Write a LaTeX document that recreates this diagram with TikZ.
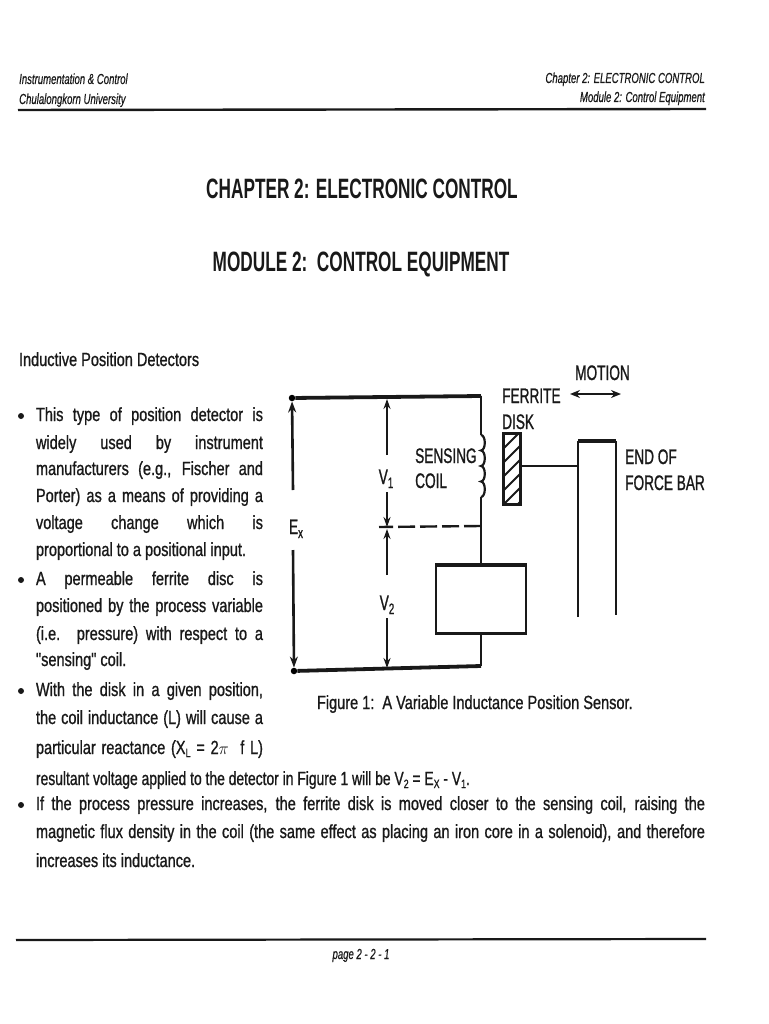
\documentclass[tikz,border=0pt]{standalone}
\usepackage{fontspec}
\usetikzlibrary{arrows.meta}
\setmainfont{Liberation Sans}
\newfontfamily\nf[FakeStretch=0.765,FakeBold=0.9]{Liberation Sans}
\newfontfamily\nft[FakeStretch=0.73,FakeBold=0.9]{Liberation Sans}
\newfontfamily\tf[FakeStretch=0.615]{Liberation Sans}
\newfontfamily\hf[FakeStretch=0.66,FakeBold=0.5]{Liberation Sans}
\newfontfamily\df[FakeStretch=0.65,FakeBold=1.0]{Liberation Sans}
\newcommand{\jl}[1]{\makebox[227pt][s]{#1}}
\newcommand{\jw}[1]{\makebox[669pt][s]{#1}}
\newcommand{\sbs}[1]{\raisebox{-3pt}{\fontsize{12}{12}\selectfont #1}}
\newcommand{\sbl}[1]{\raisebox{-4pt}{\fontsize{15}{15}\selectfont #1}}
\tikzset{
  ink/.style={draw=black!90},
  bodytxt/.style={anchor=base west,inner sep=0pt,outer sep=0pt,text=black!90,font=\nf\fontsize{19}{19}\selectfont},
  headtxt/.style={anchor=base west,inner sep=0pt,text=black!90,font=\hf\itshape\fontsize{14.5}{14.5}\selectfont},
  headrt/.style={headtxt,anchor=base east},
  titletxt/.style={anchor=base,inner sep=0pt,text=black!90,font=\tf\bfseries\fontsize{28}{28}\selectfont},
  lab/.style={anchor=base west,inner sep=0pt,text=black!90,font=\df\fontsize{21}{21}\selectfont},
  labc/.style={lab,anchor=base},
  dot/.style={circle,fill=black,inner sep=0pt,minimum size=6.5pt},
  volt/.style={ink,line width=2.1pt,-{Stealth[length=10pt,width=7pt]}},
  bul/.style={circle,fill=black!90,inner sep=0pt,minimum size=6pt}
}
\begin{document}
\begin{tikzpicture}[x=1pt,y=-1pt]
\useasboundingbox (0,0) rectangle (768,1024);
\fill[white] (0,0) rectangle (768,1024);
% headers
\node[headtxt] (h1) at (19,84) {Instrumentation \& Control};
\node[headtxt] (h2) at (19,104) {Chulalongkorn University};
\node[headrt] (h3) at (705,83) {Chapter 2:  ELECTRONIC CONTROL};
\node[headrt] (h4) at (705,102) {Module 2: Control Equipment};
\coordinate (r1a) at (18,110); \coordinate (r1b) at (706,109);
\draw[ink,line width=2.4pt] (r1a) -- (r1b);
% titles
\node[titletxt] (t1) at (362,199) {CHAPTER 2: ELECTRONIC CONTROL};
\node[titletxt] (t2) at (361,271) {MODULE 2:\ \ CONTROL EQUIPMENT};
% body
\node[bodytxt] (b0) at (19,366) {Inductive Position Detectors};
\node[bul] (d1) at (21,416) {};
\node[bodytxt] (l1) at (36,421) {\jl{This type of position detector is}};
\node[bodytxt] (l2) at (36,449) {\jl{widely used by instrument}};
\node[bodytxt] (l3) at (36,475) {\jl{manufacturers (e.g., Fischer and}};
\node[bodytxt] (l4) at (36,502) {\jl{Porter) as a means of providing a}};
\node[bodytxt] (l5) at (36,529) {\jl{voltage change which is}};
\node[bodytxt] (l6) at (36,556) {proportional to a positional input.};
\node[bul] (d2) at (21,580) {};
\node[bodytxt] (l7) at (36,585) {\jl{A permeable ferrite disc is}};
\node[bodytxt] (l8) at (36,612) {\jl{positioned by the process variable}};
\node[bodytxt] (l9) at (36,640) {\jl{(i.e. pressure) with respect to a}};
\node[bodytxt] (l10) at (36,666) {"sensing" coil.};
\node[bul] (d3) at (21,691) {};
\node[bodytxt] (l11) at (36,696) {\jl{With the disk in a given position,}};
\node[bodytxt] (l12) at (36,724) {\jl{the coil inductance (L) will cause a}};
\node[bodytxt] (l13) at (36,754) {\jl{particular reactance (X\sbs{L} = 2$\pi$\ \ f L)}};
\node[bodytxt,font=\nft\fontsize{19}{19}\selectfont] (l14) at (36,785) {resultant voltage applied to the detector in Figure 1 will be V\sbs{2} = E\sbs{X} - V\sbs{1}.};
\node[bul] (d4) at (21,805) {};
\node[bodytxt] (l15) at (36,810) {\jw{If the process pressure increases, the ferrite disk is moved closer to the sensing coil, raising the}};
\node[bodytxt] (l16) at (36,838) {\jw{magnetic flux density in the coil (the same effect as placing an iron core in a solenoid), and therefore}};
\node[bodytxt] (l17) at (36,867) {increases its inductance.};
\node[bodytxt] (cap) at (317,709) {Figure 1:\ \ A Variable Inductance Position Sensor.};
% footer
\coordinate (r2a) at (16,940); \coordinate (r2b) at (706,939);
\draw[ink,line width=2.2pt] (r2a) -- (r2b);
\node[headtxt,anchor=base] (pg) at (361,959) {page 2 - 2 - 1};
% circuit
\node[dot] (tl) at (292,398) {};
\node[dot] (bl) at (294,671) {};
\coordinate (tr) at (481,396);
\coordinate (br) at (481,666);
\coordinate (c1) at (481,435);
\coordinate (c2) at (481,497);
\coordinate (tap) at (481,526);
\coordinate (tapl) at (379,527);
\draw[ink,line width=3.8pt] (tl) -- (tr);
\draw[ink,line width=3.8pt] (bl) -- (br);
\node[draw=black!90,line width=2pt,minimum width=90pt,minimum height=67pt,inner sep=0pt] (det) at (481,599) {};
\draw[ink,line width=3.2pt] (det.north west) -- (det.north east);
\draw[ink,line width=3.2pt] (det.south west) -- (det.south east);
\draw[ink,line width=2.2pt] (tr) -- (c1);
\draw[ink,line width=2.2pt] (c1)
  arc[start angle=90,end angle=-90,x radius=3.8pt,y radius=7.75pt]
  arc[start angle=90,end angle=-90,x radius=3.8pt,y radius=7.75pt]
  arc[start angle=90,end angle=-90,x radius=3.8pt,y radius=7.75pt]
  arc[start angle=90,end angle=-90,x radius=3.8pt,y radius=7.75pt];
\draw[ink,line width=2.2pt] (c2) -- (det.north);
\draw[ink,line width=2.2pt] (det.south) -- (br);
\draw[ink,line width=2.4pt,dash pattern=on 17pt off 5pt] (tap) -- (tapl);
% voltage arrows
\node[labc] (ex) at (296,534) {E\sbl{x}};
\node[labc] (v1) at (386,484) {V\sbl{1}};
\node[labc] (v2) at (387,610) {V\sbl{2}};
\coordinate (m1) at (387,527);
\draw[ink,line width=2.6pt,-{Stealth[length=11pt,width=8pt]}] (293,490) -- (tl);
\draw[ink,line width=2.6pt,-{Stealth[length=11pt,width=8pt]}] (293,550) -- (bl);
\draw[volt] (387,455) -- (387,399);
\draw[volt] (387,492) -- (m1);
\draw[volt] (387,575) -- (387,529);
\draw[volt] (387,618) -- (387,668);
% labels
\node[lab] (sens) at (415,463) {SENSING};
\node[lab] (coil) at (415,488) {COIL};
\node[lab] (ferr) at (502,403) {FERRITE};
\node[lab] (disk) at (502,429) {DISK};
\node[lab] (mot) at (575,380) {MOTION};
\node[lab] (end) at (625,464) {END OF};
\node[lab] (fb) at (625,490) {FORCE BAR};
\coordinate (ma) at (570,394); \coordinate (mb) at (621,394);
\draw[ink,line width=2.6pt,{Stealth[length=10pt,width=8pt]}-{Stealth[length=10pt,width=8pt]}] (ma) -- (mb);
% ferrite disk
\node[minimum width=16pt,minimum height=71pt,inner sep=0pt] (fd) at (512,469) {};
\begin{scope}
\clip (fd.north west) rectangle (fd.south east);
\foreach \yy in {430,444,...,520} {
  \draw[ink,line width=1.8pt] (500,\yy+8) -- (524,\yy-16);
}
\end{scope}
\draw[ink,line width=2.8pt] (fd.north west) rectangle (fd.south east);
% force bar
\coordinate (fa) at (578,617); \coordinate (fb1) at (578,441); \coordinate (fb2) at (616,441); \coordinate (fc) at (616,615);
\coordinate (rodend) at (578,466);
\draw[ink,line width=2pt] (fa) -- (fb1);
\draw[ink,line width=2pt] (fb2) -- (fc);
\draw[ink,line width=3.2pt] (fb1) -- (fb2);
\draw[ink,line width=2.8pt] (fd.east |- rodend) -- (rodend);
\end{tikzpicture}
\end{document}
